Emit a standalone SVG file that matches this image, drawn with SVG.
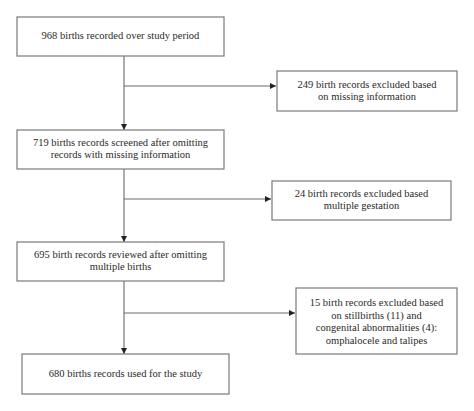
<svg xmlns="http://www.w3.org/2000/svg" width="474" height="411" viewBox="0 0 474 411">
<style>
.box{fill:#fff;stroke:#7a7a7a;stroke-width:1.2}
.t{font-family:"Liberation Serif","Times New Roman",serif;font-size:10.5px;fill:#2a2a2a;text-anchor:middle}
.c{fill:none;stroke:#6a6a6a;stroke-width:1.1}
</style>
<defs>
<marker id="ah" viewBox="0 0 10 10" refX="10" refY="5" markerWidth="6" markerHeight="6" markerUnits="userSpaceOnUse" orient="auto">
<path d="M0,0 L10,5 L0,10 z" fill="#222"/>
</marker>
</defs>
<rect width="474" height="411" fill="#fff"/>
<g id="connectors">
<path class="c" d="M124,56 V130" marker-end="url(#ah)"/>
<path class="c" d="M124,86 H276" marker-end="url(#ah)"/>
<path class="c" d="M124,169 V242" marker-end="url(#ah)"/>
<path class="c" d="M124,199 H271" marker-end="url(#ah)"/>
<path class="c" d="M124,281 V354" marker-end="url(#ah)"/>
<path class="c" d="M124,313 H295" marker-end="url(#ah)"/>
</g>
<g id="n1"><rect class="box" x="17" y="17" width="207" height="39"/>
<text class="t" x="120.5" y="39">968 births recorded over study period</text></g>
<g id="n2"><rect class="box" x="277" y="71" width="180" height="40"/>
<text class="t" x="367" y="88">249 birth records excluded based</text>
<text class="t" x="367" y="100">on missing information</text></g>
<g id="n3"><rect class="box" x="17" y="130" width="207" height="39"/>
<text class="t" x="120.5" y="146">719 births records screened after omitting</text>
<text class="t" x="120.5" y="158">records with missing information</text></g>
<g id="n4"><rect class="box" x="272" y="181" width="179" height="39"/>
<text class="t" x="361.5" y="197">24 birth records excluded based</text>
<text class="t" x="361.5" y="209">multiple gestation</text></g>
<g id="n5"><rect class="box" x="17" y="242" width="207" height="39"/>
<text class="t" x="120.5" y="258">695 birth records reviewed after omitting</text>
<text class="t" x="120.5" y="270">multiple births</text></g>
<g id="n6"><rect class="box" x="296" y="288" width="161" height="66"/>
<text class="t" x="376.5" y="306">15 birth records excluded based</text>
<text class="t" x="376.5" y="318.5">on stillbirths (11) and</text>
<text class="t" x="376.5" y="331">congenital abnormalities (4):</text>
<text class="t" x="376.5" y="343.5">omphalocele and talipes</text></g>
<g id="n7"><rect class="box" x="22" y="354" width="207" height="40"/>
<text class="t" x="125.5" y="377">680 births records used for the study</text></g>
</svg>
